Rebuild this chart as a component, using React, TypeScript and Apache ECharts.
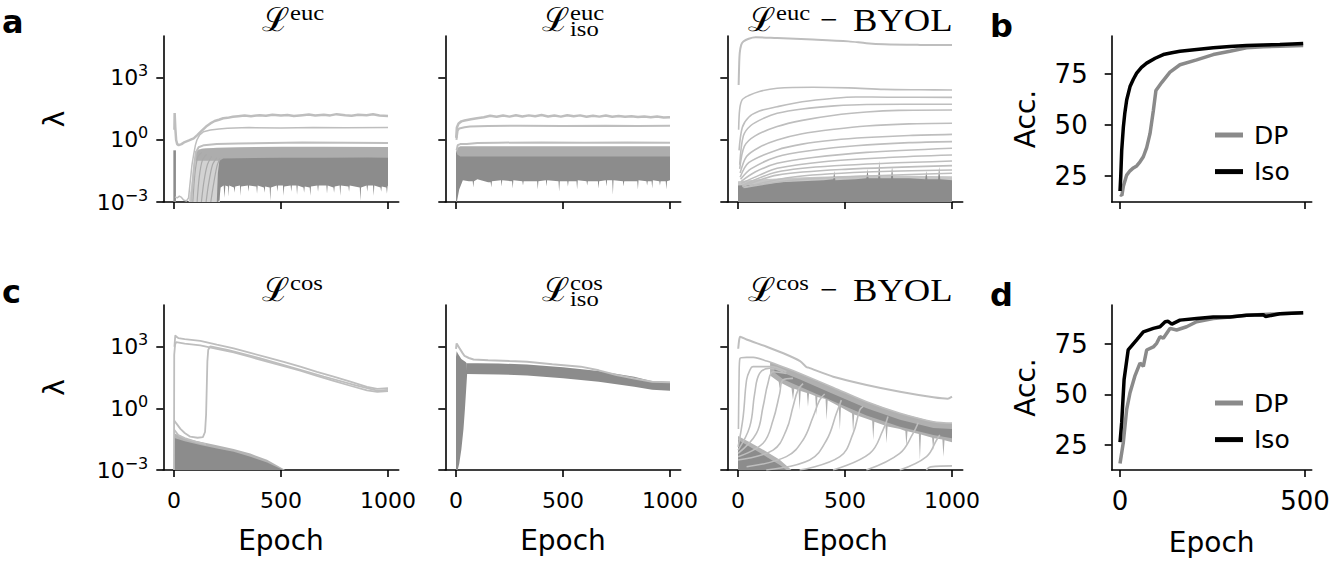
import React, { useEffect, useRef } from 'react';
import * as echarts from 'echarts';

type P = [number, number];

// ======================= DATA =======================
// Eigenvalue panels: points are [epoch, log10(λ)]

// ---- a1: ℒ^euc ----
const eucTop: P[] = [[2,0.5],[3,1.3],[6,0.6],[10,0],[15,-0.2],[22,-0.25],[35,-0.2],[50,-0.1],[70,-0.02],[92,0.08],[110,0.25],[130,0.45],[150,0.65],[170,0.8],[190,0.92],[210,0.98],[230,1.05],[250,1.07],[275,1.12],[300,1.15],[330,1.18],[360,1.15],[400,1.2],[430,1.17],[460,1.22],[500,1.18],[530,1.21],[560,1.16],[600,1.2],[630,1.23],[660,1.18],[700,1.22],[730,1.19],[760,1.25],[800,1.2],[830,1.17],[860,1.22],[900,1.2],[930,1.24],[960,1.18],[1000,1.16]];
const eucSecond: P[] = [[5,-2.75],[15,-2.8],[25,-2.72],[35,-2.78],[45,-2.9],[58,-2.95],[68,-2.8],[76,-2.0],[84,-1.2],[92,-0.7],[100,-0.25],[107,0.0],[120,0.25],[138,0.4],[170,0.48],[210,0.53],[250,0.57],[350,0.6],[500,0.58],[650,0.6],[800,0.59],[1000,0.6]];
const eucThird: P[] = [[80,-3],[88,-2],[95,-1.2],[102,-0.6],[115,-0.35],[140,-0.25],[200,-0.2],[300,-0.17],[450,-0.14],[600,-0.12],[800,-0.13],[1000,-0.14]];
const eucCurtainLines: P[][] = [
  [[88,-3],[98,-1.6],[112,-0.8],[130,-0.6]],
  [[108,-3],[118,-1.8],[132,-1.0],[152,-0.7]],
  [[128,-3],[140,-2.0],[156,-1.2],[176,-0.8]],
  [[150,-3],[162,-2.1],[180,-1.2],[200,-0.85]],
  [[172,-3],[184,-2.2],[200,-1.3],[214,-0.9]],
];
const eucStrip: P[] = [[-3,-3],[-3,-0.5],[9,-0.5],[9,-3]];
const eucCurtain: P[] = [[68,-3],[80,-2.2],[90,-1.2],[100,-0.6],[115,-0.45],[150,-0.4],[215,-0.4],[215,-3]];
const eucFringeUpper: P[] = [[100,-0.55],[130,-0.42],[200,-0.38],[300,-0.35],[500,-0.33],[700,-0.33],[1000,-0.34]];
const eucFringeLower: P[] = [[100,-1.0],[1000,-1.0]];
const eucCoreUpper: P[] = [[200,-3],[205,-1.6],[212,-1.0],[230,-0.9],[300,-0.88],[500,-0.86],[700,-0.86],[900,-0.85],[1000,-0.86]];
const eucCoreLower: P[] = [[205,-3],[212,-2.9],[218,-2.3],[232,-2.2],[236,-2.8],[240,-2.2],[253,-2.25],[255,-2.75],[258,-2.2],[280,-2.3],[283,-2.55],[286,-2.25],[308,-2.2],[310,-2.7],[313,-2.25],[345,-2.2],[348,-2.5],[351,-2.2],[385,-2.25],[388,-2.6],[391,-2.2],[420,-2.3],[423,-2.55],[426,-2.25],[447,-2.3],[450,-2.95],[453,-2.3],[480,-2.2],[483,-2.5],[486,-2.2],[509,-2.2],[512,-2.7],[515,-2.25],[545,-2.2],[548,-2.5],[551,-2.2],[572,-2.2],[575,-2.65],[578,-2.2],[605,-2.3],[608,-2.55],[611,-2.25],[634,-2.3],[637,-2.7],[640,-2.25],[670,-2.2],[673,-2.5],[676,-2.2],[712,-2.2],[715,-2.6],[718,-2.2],[745,-2.3],[748,-2.55],[751,-2.25],[774,-2.2],[777,-2.7],[780,-2.2],[815,-2.25],[818,-2.5],[821,-2.2],[868,-2.3],[871,-2.95],[874,-2.3],[900,-2.2],[903,-2.5],[906,-2.2],[930,-2.2],[933,-2.7],[936,-2.2],[965,-2.3],[968,-2.5],[971,-2.25],[992,-2.3],[995,-2.6],[998,-2.25],[1000,-2.2]];

// ---- a2: ℒ_iso^euc ----
const isoTop: P[] = [[1,0.1],[4,0.6],[12,0.8],[25,0.9],[40,0.94],[70,1.0],[98,1.05],[130,1.1],[160,1.17],[190,1.12],[220,1.18],[250,1.13],[280,1.2],[310,1.14],[340,1.19],[370,1.15],[400,1.21],[430,1.14],[460,1.18],[490,1.13],[520,1.2],[550,1.15],[580,1.19],[610,1.12],[640,1.17],[670,1.13],[700,1.18],[730,1.12],[760,1.16],[790,1.12],[820,1.15],[850,1.11],[880,1.14],[910,1.1],[940,1.14],[970,1.09],[1000,1.1]];
const isoSecond: P[] = [[2,0.0],[8,0.45],[15,0.56],[40,0.62],[65,0.65],[150,0.68],[300,0.69],[500,0.68],[700,0.69],[850,0.68],[1000,0.69]];
const isoThird: P[] = [[3,-0.5],[8,-0.25],[20,-0.2],[50,-0.2],[100,-0.15],[200,-0.13],[400,-0.12],[600,-0.13],[800,-0.12],[1000,-0.13]];
const isoFringeUpper: P[] = [[3,-0.4],[20,-0.3],[100,-0.3],[1000,-0.3]];
const isoFringeLower: P[] = [[3,-1],[1000,-1]];
const isoCoreUpper: P[] = [[0,-3],[0,-0.45],[6,-0.7],[20,-0.8],[100,-0.8],[500,-0.8],[1000,-0.8]];
const isoCoreLower: P[] = [[4,-3],[15,-2.4],[32,-1.95],[60,-2.0],[78,-2.0],[81,-2.3],[84,-2.0],[100,-1.9],[150,-2.05],[162,-2.05],[165,-2.3],[168,-2.0],[210,-1.95],[213,-2.25],[216,-1.95],[262,-2.0],[265,-2.35],[268,-1.95],[310,-2.0],[313,-2.2],[316,-2.0],[379,-2.0],[382,-2.4],[385,-2.0],[420,-1.95],[423,-2.25],[426,-1.95],[479,-2.0],[482,-2.5],[485,-2.0],[520,-2.0],[523,-2.25],[526,-2.0],[563,-2.0],[566,-2.4],[569,-1.95],[610,-2.0],[613,-2.2],[616,-2.0],[663,-2.0],[666,-2.35],[669,-2.0],[700,-1.95],[703,-2.25],[706,-1.95],[730,-1.95],[733,-2.66],[736,-1.95],[780,-2.0],[783,-2.25],[786,-2.0],[847,-2.0],[850,-2.4],[853,-1.95],[890,-2.0],[893,-2.2],[896,-2.0],[914,-2.0],[917,-2.35],[920,-1.95],[950,-2.0],[953,-2.2],[956,-2.0],[980,-2.0],[983,-2.4],[986,-2.0],[1000,-1.95]];

// ---- a3: ℒ^euc − BYOL ----
const byolEucLines: P[][] = [
  [[3,2.66],[5,3.5],[8,4.2],[15,4.6],[25,4.76],[50,4.9],[83,4.97],[183,4.93],[350,4.86],[517,4.77],[600,4.68],[683,4.63],[850,4.6],[1000,4.59]],
  [[3,0.5],[8,1.5],[20,1.95],[50,2.15],[100,2.35],[183,2.5],[350,2.55],[517,2.52],[683,2.45],[850,2.43],[1000,2.42]],
  [[5,-0.5],[20,0.6],[50,1.1],[100,1.4],[183,1.61],[300,1.85],[450,2.02],[550,2.08],[700,2.07],[1000,2.06]],
  [[8,-1.2],[25,0.2],[60,0.7],[120,1.05],[183,1.29],[300,1.5],[450,1.65],[600,1.72],[1000,1.73]],
  [[8,-1.4],[30,-0.3],[80,0.2],[183,0.65],[300,0.95],[450,1.2],[600,1.35],[750,1.43],[1000,1.45]],
  [[10,-1.6],[40,-0.8],[100,-0.35],[183,0.0],[300,0.3],[450,0.52],[600,0.68],[800,0.78],[1000,0.81]],
  [[10,-1.8],[50,-1.1],[183,-0.48],[300,-0.2],[450,0.0],[600,0.12],[800,0.22],[1000,0.27]],
  [[12,-1.9],[60,-1.4],[183,-0.81],[350,-0.5],[550,-0.28],[800,-0.13],[1000,-0.08]],
  [[15,-2.0],[80,-1.55],[183,-1.13],[350,-0.85],[600,-0.6],[1000,-0.4]],
  [[15,-2.1],[100,-1.7],[183,-1.37],[400,-1.05],[700,-0.85],[1000,-0.73]],
  [[20,-2.2],[183,-1.55],[450,-1.25],[1000,-1.02]],
  [[20,-2.25],[183,-1.7],[500,-1.42],[1000,-1.24]],
  [[25,-2.3],[250,-1.8],[600,-1.55],[1000,-1.45]],
  [[30,-2.3],[300,-1.9],[1000,-1.61]],
];
const byolEucFringeUpper: P[] = [[0,-2.0],[100,-1.9],[300,-1.8],[600,-1.7],[1000,-1.75]];
const byolEucCoreUpper: P[] = [[0,-2.2],[100,-2.15],[200,-2.05],[300,-2.0],[400,-1.95],[445,-1.9],[450,-1.5],[455,-1.95],[550,-1.9],[600,-1.85],[605,-1.4],[610,-1.85],[655,-1.85],[660,-1.0],[665,-1.85],[715,-1.85],[720,-1.3],[725,-1.85],[800,-1.85],[875,-1.9],[880,-1.5],[885,-1.9],[935,-1.9],[940,-1.3],[945,-1.9],[1000,-1.95]];
const byolEucFloor: P[] = [[0,-3],[1000,-3]];

// ---- c1: ℒ^cos ----
const cosLines: P[][] = [
  [[2,3.0],[6,3.55],[10,3.5],[20,3.42],[50,3.37],[123,3.28],[200,3.1],[279,2.92],[357,2.7],[435,2.48],[513,2.26],[590,2.03],[668,1.78],[746,1.54],[824,1.3],[902,1.05],[950,0.95],[1000,0.98]],
  [[0,-3],[1,2.6],[5,3.1],[10,3.22],[50,3.15],[123,3.07],[200,2.9],[279,2.72],[357,2.5],[435,2.28],[513,2.06],[590,1.83],[668,1.58],[746,1.34],[824,1.1],[902,0.88],[950,0.8],[1000,0.84]],
  [[2,-0.6],[10,-0.72],[30,-1.0],[50,-1.2],[76,-1.38],[110,-1.43],[135,-1.4],[145,-1.15],[150,-0.3],[153,1.0],[156,2.3],[160,2.85],[170,3.02],[250,2.85],[400,2.45],[550,2.0],[700,1.55],[850,1.12],[950,0.86],[1000,0.9]],
  [[2,-1.05],[20,-1.3],[50,-1.45],[100,-1.62],[150,-1.75]],
];
const cosFuzz: P[] = [[0,-3],[0,-1.2],[50,-1.45],[123,-1.63],[200,-1.8],[279,-1.98],[357,-2.2],[435,-2.5],[520,-3]];
const cosCore: P[] = [[0,-3],[0,-1.35],[5,-1.45],[50,-1.6],[123,-1.78],[200,-1.95],[279,-2.11],[357,-2.35],[435,-2.64],[505,-2.97],[512,-3]];

// ---- c2: ℒ_iso^cos ----
const cosIsoTop: P[] = [[0,2.9],[3,3.16],[15,2.95],[30,2.7],[40,2.55],[60,2.45],[82,2.38],[150,2.34],[250,2.3],[332,2.27],[450,2.15],[583,2.03],[667,1.85],[750,1.62],[833,1.45],[917,1.3],[1000,1.27]];
const cosIsoBandUpper: P[] = [[50,2.2],[100,2.19],[200,2.18],[332,2.14],[500,2.0],[667,1.82],[833,1.54],[917,1.32],[1000,1.24]];
const cosIsoBandLower: P[] = [[50,1.67],[200,1.65],[332,1.6],[500,1.46],[667,1.3],[833,1.05],[917,0.9],[1000,0.86]];
const cosIsoOnset: P[] = [[0,-3],[0,2.5],[3,2.78],[10,2.65],[25,2.4],[45,2.25],[50,2.2],[52,1.67],[48,1.0],[42,0],[35,-1],[25,-2],[15,-2.7],[8,-3]];

// ---- c3: ℒ^cos − BYOL ----
const byolCosTop: P[] = [[1,2.9],[5,3.3],[10,3.49],[40,3.35],[134,3.0],[212,2.68],[290,2.3],[321,2.0],[330,1.98],[445,1.54],[601,1.14],[757,0.81],[913,0.54],[980,0.47],[1000,0.57]];
const byolCosSecond: P[] = [[2,-1.0],[5,1.5],[9,2.43],[40,2.48],[72,2.48],[134,2.3],[228,1.95],[290,1.7],[445,1.02],[601,0.32],[757,-0.24],[913,-0.65],[1000,-0.72]];
const byolCosFan: P[][] = [
  [[0.5,-1.87],[24,-0.41],[40,1.38],[55,1.85],[70,2.03],[148,2.03],[226,1.78]],
  [[0.5,-2.03],[55,-0.89],[78,0.73],[101,1.7],[148,1.95],[210,1.78]],
  [[0.5,-2.19],[86,-1.22],[117,0.08],[140,1.22],[164,1.78],[226,1.7]],
  [[0.5,-2.35],[117,-1.7],[164,-0.57],[195,0.73],[210,1.38],[257,1.46]],
  [[0.5,-2.51],[164,-2.03],[226,-1.05],[257,0.08],[280,0.89],[304,1.2]],
  [[40,-2.84],[226,-2.35],[304,-1.54],[351,-0.41],[382,0.41],[405,0.7]],
  [[132,-3.0],[335,-2.51],[414,-1.54],[460,-0.24],[483,0.4]],
  [[288,-3.0],[476,-2.35],[538,-1.22],[569,-0.08],[585,0.1]],
  [[444,-3.0],[616,-2.19],[678,-1.05],[701,-0.4]],
  [[600,-3.0],[756,-2.19],[818,-1.22],[842,-0.7]],
  [[756,-3.0],[881,-2.35],[928,-1.54],[943,-1.3]],
  [[880,-3],[900,-2.85],[1000,-2.8]],
];
const byolCosBundleUpper: P[] = [[150,2.25],[228,1.95],[290,1.7],[445,1.02],[601,0.32],[757,-0.24],[913,-0.65],[1000,-0.72]];
const byolCosBundleLower: P[] = [[150,1.6],[190,1.3],[195,0.97],[200,1.25],[250,0.98],[257,0.41],[263,0.95],[283,0.88],[288,-0.08],[293,0.85],[322,0.75],[327,0.08],[332,0.72],[361,0.6],[366,-0.33],[371,0.55],[409,0.45],[414,-0.57],[419,0.4],[471,0.1],[476,-1.05],[481,0.05],[533,-0.25],[538,-1.22],[543,-0.3],[601,-0.5],[627,-0.6],[632,-1.54],[637,-0.65],[689,-0.85],[694,-1.7],[699,-0.88],[757,-1.0],[782,-1.1],[787,-1.87],[792,-1.12],[845,-1.25],[850,-2.51],[855,-1.27],[907,-1.43],[912,-2.03],[917,-1.45],[955,-1.52],[960,-2.35],[965,-1.55],[1000,-1.65]];
const byolCosCoreUpper: P[] = [[170,1.95],[213,1.72],[290,1.4],[445,0.7],[601,0.0],[757,-0.55],[913,-0.95],[1000,-1.0]];
const byolCosCoreLower: P[] = [[170,1.75],[213,1.4],[290,1.05],[445,0.35],[601,-0.35],[757,-0.9],[913,-1.3],[1000,-1.45]];
const byolCosFuzz: P[] = [[0,-3],[0,-1.35],[55,-1.65],[132,-2.1],[195,-2.5],[250,-3]];
const byolCosCore: P[] = [[0,-3],[0,-1.54],[55,-1.87],[132,-2.35],[195,-2.76],[226,-3]];

// ---- b / d: accuracy (epoch, %) ----
const accB_DP: P[] = [[0,16],[5,15.5],[9,20],[18,25.5],[27,27.6],[36,29],[45,30],[54,32],[63,34.5],[72,39],[81,45.8],[90,57],[97,67],[113,71],[135,76],[162,79.6],[207,82],[252,84.6],[297,86.2],[342,87.9],[387,88.4],[432,88.7],[495,89]];
const accB_Iso: P[] = [[0,17.7],[2,25],[4.5,37.5],[9,49],[13,56],[18,62.3],[27,68.9],[36,72.5],[45,75.5],[58,78.3],[72,80.4],[95,82.8],[117,84.6],[140,85.5],[162,86.2],[207,87.1],[252,87.9],[297,88.5],[342,89],[387,89.3],[432,89.5],[465,89.8],[495,90]];
const accD_DP: P[] = [[0,15.7],[9,26.3],[18,42.6],[27,50.8],[40,59],[54,65.5],[63,63.9],[72,72],[90,73.5],[99,75.3],[108,78.6],[117,77.8],[135,82.7],[153,81.9],[180,83.5],[207,86],[252,87.6],[297,88.4],[342,89.2],[387,89.6],[432,90],[495,90.5]];
const accD_Iso: P[] = [[0,26.3],[4.5,36.1],[11,57.4],[22,72],[45,77],[63,81],[90,82.7],[108,83.5],[122,86],[130,86.2],[140,84.8],[162,86.8],[207,87.6],[252,88.4],[297,88.4],[342,89.2],[387,89.5],[393,88.6],[432,90],[495,90.4]];

const eigTicks = [-3, 0, 3];
const epochTicks = [0, 500, 1000];
const accEpochTicks = [0, 500];
const accTicks = [25, 50, 75];
const legendNames = ['DP', 'Iso'];

// ======================= STYLE / LAYOUT =======================
const FONT = '"DejaVu Sans", sans-serif';
const SERIF = '"Liberation Serif", "DejaVu Serif", serif';
const LIGHT = '#bebebe';
const MID = '#adadad';
const PALE = '#d2d2d2';
const DARK = '#8c8c8c';
const EIG_LEFT = [163.3, 445.3, 727.3];
const EIG_W = 235.4;
const ACC_LEFT = 1111.7;
const ACC_W = 200;
const ROW_TOP = [36, 305];
const ROW_H = [166, 165];

function band(idx: number, upper: P[], lower: P[], color: string): any {
  const pts = upper.concat(lower.slice().reverse());
  return {
    type: 'custom', xAxisIndex: idx, yAxisIndex: idx, silent: true, z: 1,
    data: pts,
    renderItem: (params: any, api: any) => {
      if (params.dataIndex !== 0) return null;
      return { type: 'polygon', shape: { points: pts.map((p) => api.coord(p)) }, style: { fill: color } };
    },
  };
}
function line(idx: number, data: P[], color: string, width: number, smooth: number | boolean = false, z = 3): any {
  return {
    type: 'line', xAxisIndex: idx, yAxisIndex: idx, data, showSymbol: false, symbol: 'none',
    silent: true, smooth, z, lineStyle: { color, width }, itemStyle: { color },
  };
}

const axisLine = { show: true, onZero: false, lineStyle: { color: '#000', width: 1.6 } };
const tick = (vals: number[]) => ({ show: true, length: 7, inside: false, customValues: vals, lineStyle: { color: '#000', width: 1.6 } });
const supText = (v: number) => (v < 0 ? '\u2212' + Math.abs(v) : String(v));

function buildOption(): any {
  const grid: any[] = [];
  const xAxis: any[] = [];
  const yAxis: any[] = [];
  for (let r = 0; r < 2; r++) {
    for (let c = 0; c < 4; c++) {
      const idx = r * 4 + c;
      const isAcc = c === 3;
      grid.push({ left: isAcc ? ACC_LEFT : EIG_LEFT[c], top: ROW_TOP[r], width: isAcc ? ACC_W : EIG_W, height: ROW_H[r] });
      xAxis.push({
        type: 'value', gridIndex: idx,
        min: isAcc ? -22.5 : -50, max: isAcc ? 518 : 1050,
        axisLine, axisTick: tick(isAcc ? accEpochTicks : epochTicks), splitLine: { show: false },
        axisLabel: {
          show: r === 1, customValues: isAcc ? accEpochTicks : epochTicks, formatter: (v: number) => String(v),
          color: '#000', fontFamily: FONT, fontSize: isAcc ? 26 : 22, margin: isAcc ? 18 : 19,
        },
        name: r === 1 ? 'Epoch' : '', nameLocation: 'middle', nameGap: isAcc ? 58 : 56,
        nameTextStyle: { color: '#000', fontFamily: FONT, fontSize: 28 },
      });
      if (isAcc) {
        yAxis.push({
          type: 'value', gridIndex: idx, min: r === 0 ? 12.3 : 12.5, max: r === 0 ? 93.7 : 94.3,
          axisLine, axisTick: tick(accTicks), splitLine: { show: false },
          axisLabel: { customValues: accTicks, formatter: (v: number) => String(v), color: '#000', fontFamily: FONT, fontSize: 26, margin: 24 },
          name: 'Acc.', nameLocation: 'middle', nameRotate: 90, nameGap: 72,
          nameTextStyle: { color: '#000', fontFamily: FONT, fontSize: 28 },
        });
      } else {
        yAxis.push({
          type: 'value', gridIndex: idx, min: -3, max: 5.03,
          axisLine, axisTick: tick(eigTicks), splitLine: { show: false },
          axisLabel: {
            show: c === 0, customValues: eigTicks, margin: 15,
            formatter: (v: number) => `{b|10}{s|${supText(v)}}`,
            rich: {
              b: { fontSize: 22, lineHeight: 30, fontFamily: FONT, color: '#000' },
              s: { fontSize: 16, lineHeight: 16, verticalAlign: 'top', fontFamily: FONT, color: '#000' },
            },
          },
          name: c === 0 ? '\u03bb' : '', nameLocation: 'middle', nameRotate: 90, nameGap: 95,
          nameTextStyle: { color: '#000', fontFamily: FONT, fontSize: 28 },
        });
      }
    }
  }

  const series: any[] = [];
  // a1
  series.push(band(0, eucCurtain, [], PALE));
  series.push(band(0, eucFringeUpper, eucFringeLower, MID));
  eucCurtainLines.forEach((d) => series.push(line(0, d, '#a9a9a9', 1.2, 0.3, 2)));
  series.push(band(0, eucCoreUpper, eucCoreLower, DARK));
  series.push(band(0, eucStrip, [], DARK));
  series.push(line(0, eucSecond, LIGHT, 1.5));
  series.push(line(0, eucThird, LIGHT, 2));
  series.push(line(0, eucTop, LIGHT, 2.5));
  // a2
  series.push(band(1, isoFringeUpper, isoFringeLower, MID));
  series.push(band(1, isoCoreUpper, isoCoreLower, DARK));
  series.push(line(1, isoThird, LIGHT, 2));
  series.push(line(1, isoSecond, LIGHT, 2));
  series.push(line(1, isoTop, LIGHT, 2.5));
  // a3
  series.push(band(2, byolEucFringeUpper, byolEucFloor, '#c6c6c6'));
  series.push(band(2, [[0, -3] as P].concat(byolEucCoreUpper), [[1000, -3]], DARK));
  byolEucLines.forEach((d, i) => series.push(line(2, d, LIGHT, i === 0 ? 2 : 1.6, 0.3)));
  // c1
  series.push(band(4, cosFuzz, [], '#b4b4b4'));
  series.push(band(4, cosCore, [], DARK));
  cosLines.forEach((d) => series.push(line(4, d, LIGHT, 1.8)));
  // c2
  series.push(band(5, cosIsoOnset, [], DARK));
  series.push(band(5, cosIsoBandUpper, cosIsoBandLower, DARK));
  series.push(line(5, cosIsoTop, LIGHT, 2));
  // c3
  series.push(band(6, byolCosFuzz, [], '#b4b4b4'));
  series.push(band(6, byolCosCore, [], DARK));
  byolCosFan.forEach((d) => series.push(line(6, d, LIGHT, 1.6, 0.4)));
  series.push(band(6, byolCosBundleUpper, byolCosBundleLower, '#b0b0b0'));
  series.push(band(6, byolCosCoreUpper, byolCosCoreLower, DARK));
  series.push(line(6, byolCosSecond, LIGHT, 1.6, 0.3));
  series.push(line(6, byolCosTop, LIGHT, 2, 0.2));
  // b, d
  series.push({ ...line(3, accB_DP, '#8a8a8a', 3.5), name: 'DP' });
  series.push({ ...line(3, accB_Iso, '#000000', 3.5), name: 'Iso' });
  series.push({ ...line(7, accD_DP, '#8a8a8a', 3.5), name: 'DP' });
  series.push({ ...line(7, accD_Iso, '#000000', 3.5), name: 'Iso' });

  const legendBase = {
    orient: 'vertical', left: 1210, itemWidth: 28, itemHeight: 5, itemGap: 8.6, icon: 'rect',
    selectedMode: false, data: legendNames,
    textStyle: { fontSize: 25, lineHeight: 28, fontFamily: FONT, color: '#000', padding: [0, 0, 0, 6] },
  };

  const graphic: any[] = [];
  const letter = (t: string, x: number, y: number) => ({
    type: 'text', x, y, silent: true,
    style: { text: t, fontSize: 32, fontWeight: 'bold', fontFamily: FONT, fill: '#000', align: 'left', verticalAlign: 'middle', lineHeight: 30 },
  });
  graphic.push(letter('a', 2, 22), letter('b', 990, 26), letter('c', 2, 292), letter('d', 990, 295));
  const txt = (t: string, x: number, baseline: number, size: number, family: string, sx = 1) => ({
    type: 'text', x, y: baseline - 0.34 * size, scaleX: sx, silent: true,
    style: { text: t, fontSize: size, fontFamily: family, fill: '#000', align: 'left', verticalAlign: 'middle', lineHeight: Math.round(size * 0.62) },
  });
  const titles = [
    { x: 262, sup: 'euc', sub: '', tail: false },
    { x: 542, sup: 'euc', sub: 'iso', tail: false },
    { x: 748, sup: 'euc', sub: '', tail: true },
  ];
  [0, 1].forEach((r) => {
    const dy = r * 270;
    titles.forEach((t) => {
      graphic.push(txt('\u2112', t.x, 31 + dy, 33, '"DejaVu Serif", serif'));
      graphic.push(txt(r === 0 ? t.sup : 'cos', t.x + 28, 19.5 + dy, 22, SERIF, 1.12));
      if (t.sub) graphic.push(txt(t.sub, t.x + 28, 35.5 + dy, 22, SERIF, 1.12));
      if (t.tail) {
        graphic.push(txt('\u2212', t.x + 72, 30 + dy, 31, SERIF));
        graphic.push(txt('BYOL', t.x + 105, 31 + dy, 31, SERIF, 1.18));
      }
    });
  });

  return {
    animation: false,
    backgroundColor: '#fff',
    grid, xAxis, yAxis, series, graphic,
    legend: [{ ...legendBase, top: 116 }, { ...legendBase, top: 384 }],
  };
}

export default function App() {
  const ref = useRef<HTMLDivElement>(null);
  useEffect(() => {
    const chart = echarts.init(ref.current!, null, { renderer: 'svg' });
    chart.setOption(buildOption());
    return () => chart.dispose();
  }, []);
  return <div ref={ref} style={{ position: 'fixed', left: 0, top: 0, width: 1336, height: 562, background: '#fff' }} />;
}
